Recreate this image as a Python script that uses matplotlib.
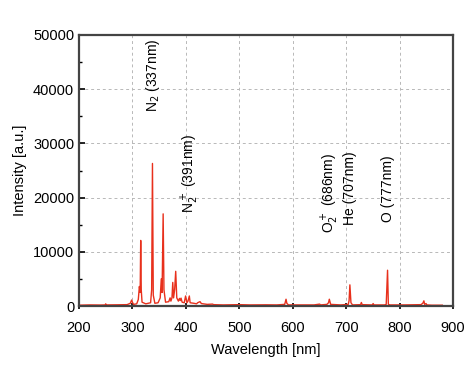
import matplotlib
matplotlib.use("Agg")
import matplotlib.pyplot as plt
from matplotlib.ticker import MultipleLocator

plt.rcParams["font.family"] = ["Liberation Sans", "DejaVu Sans"]

# spectrum vertices (wavelength nm, intensity a.u.)
wavelength = [200, 220, 240, 249, 250, 251, 270, 290, 296, 298.5, 300, 302, 308,
              311, 313, 314.5, 315.5, 316.5, 318, 325, 334, 336, 337.5, 339, 342,
              348, 352, 354, 355.5, 357.5, 359, 362, 368, 370.5, 372, 374, 375.5,
              377, 379, 381, 383, 386, 388, 389.5, 391, 393, 397, 399.5, 402, 404,
              406.5, 408, 415, 420, 422, 426.5, 429, 440, 450, 452, 470, 500, 520,
              550, 570, 585, 587.5, 589, 592, 620, 640, 650.5, 652, 664, 667, 668.5,
              671, 690, 704, 705.5, 707, 709, 712, 727, 728.5, 730, 749, 750.5, 752,
              772, 775, 777.5, 779, 782, 810, 840, 843.5, 845.5, 847, 849.5, 851,
              860, 880]
intensity = [150, 200, 180, 200, 400, 200, 220, 250, 500, 1100, 700, 300, 400,
             1200, 3600, 2500, 12100, 3000, 700, 400, 600, 3000, 26300, 2000, 500,
             600, 1500, 5000, 2500, 17000, 3000, 700, 800, 1500, 900, 1500, 4350,
             1500, 3000, 6400, 1500, 900, 1400, 1000, 1450, 700, 600, 1850, 600,
             900, 1850, 600, 500, 400, 600, 800, 450, 300, 350, 250, 200, 250, 200,
             220, 200, 300, 1250, 500, 200, 200, 200, 350, 200, 300, 600, 1250,
             300, 200, 300, 1000, 3900, 600, 200, 250, 650, 250, 200, 450, 200,
             200, 300, 6600, 300, 200, 200, 250, 500, 950, 300, 450, 200, 150, 150]

labels = [r"N$_2$ (337nm)", r"N$_2^+$ (391nm)", r"O$_2^+$ (686nm)",
          "He (707nm)", "O (777nm)"]
label_x = [339, 408, 670, 707, 778]
label_y = [35800, 17200, 13500, 14900, 15500]

fig = plt.figure(figsize=(4.74, 3.66), dpi=100)
ax = fig.add_axes([79 / 474, 1 - 306 / 366, (453 - 79) / 474, (306 - 35) / 366])

ax.plot(wavelength, intensity, color="#e8301c", lw=1.0)

for text, x, y in zip(labels, label_x, label_y):
    ax.text(x, y, text, rotation=90, ha="center", va="bottom", fontsize=10)

ax.set_xlim(200, 900)
ax.set_ylim(0, 50000)
ax.xaxis.set_major_locator(MultipleLocator(100))
ax.yaxis.set_major_locator(MultipleLocator(10000))
ax.yaxis.set_minor_locator(MultipleLocator(5000))
ax.tick_params(axis="x", direction="inout", length=5, width=1.2, labelsize=10.5, pad=8)
ax.tick_params(axis="y", which="major", direction="in", length=4, width=1.2, labelsize=10.5)
ax.tick_params(axis="y", which="minor", direction="in", length=2.5, width=1.0)
ax.grid(True, which="major", linestyle=(0, (3, 3)), color="#b8b8b8", lw=0.7)
ax.set_axisbelow(True)
for sp in ax.spines.values():
    sp.set_linewidth(1.6)
    sp.set_color("#444444")

ax.set_xlabel("Wavelength [nm]", fontsize=10.5, labelpad=6)
ax.set_ylabel("Intensity [a.u.]", fontsize=10.5)

fig.savefig("out.png", dpi=100)
